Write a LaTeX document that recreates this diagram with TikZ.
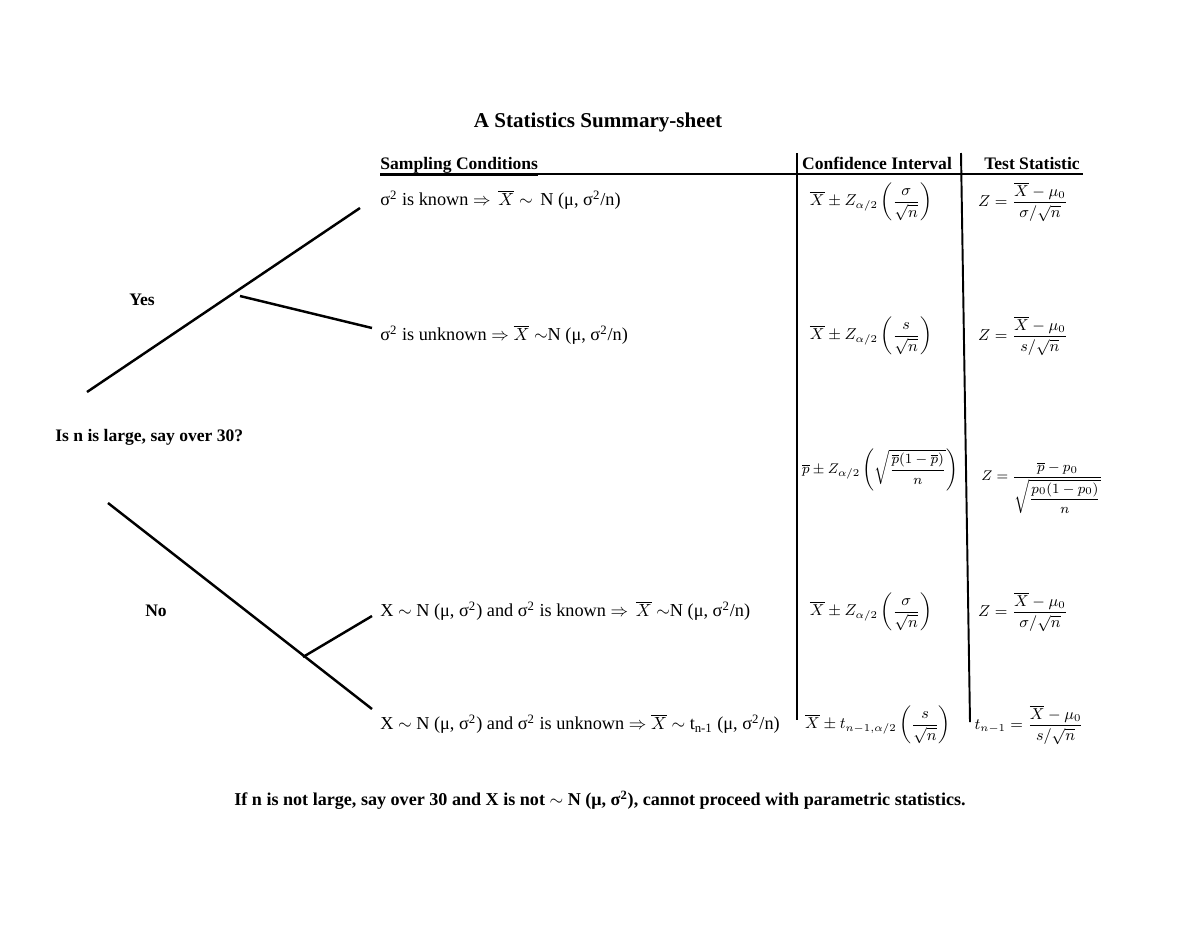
\documentclass[tikz,border=0pt]{standalone}
\usepackage{fontspec}
\setmainfont{Liberation Serif}
\usepackage{amsmath}
\begin{document}
\begin{tikzpicture}[x=0.02cm,y=-0.02cm,
    riga/.style={anchor=west,inner sep=0pt,font=\fontsize{10.4}{12}\selectfont},
    formula/.style={inner sep=0pt,font=\fontsize{9}{11}\selectfont},
    intest/.style={inner sep=0pt,font=\fontsize{10}{12}\selectfont\bfseries},
    ramo/.style={line width=1.4pt},
    colonna/.style={line width=1.1pt}]
    \useasboundingbox (0,0) rectangle (1200,927);
    % Titolo e intestazioni
    \node[intest,font=\fontsize{12}{14}\selectfont\bfseries] (titolo) at (598,122) {A Statistics Summary-sheet};
    \node[intest,anchor=base west] (hcond) at (380,169) {\underline{Sampling Conditions}};
    \node[intest,anchor=base] (hci) at (877,169) {Confidence Interval};
    \node[intest,anchor=base] (hts) at (1032,169) {Test Statistic};
    % Righe
    \coordinate (lsx) at (380,174);
    \coordinate (ldx) at (1083,174);
    \coordinate (c1a) at (797,153);
    \coordinate (c1b) at (797,720);
    \coordinate (c2a) at (961,153);
    \coordinate (c2b) at (970,722);
    \draw [line width=1.6pt] (lsx) -- (ldx);
    \draw [colonna] (c1a) -- (c1b);
    \draw [colonna] (c2a) -- (c2b);
    % Albero
    \coordinate (ys) at (87,392);
    \coordinate (ye) at (360,208);
    \coordinate (yb) at (240,296);
    \coordinate (yf) at (372,328);
    \coordinate (ns) at (108,503);
    \coordinate (ne) at (372,709);
    \coordinate (nb) at (303,657);
    \coordinate (nf) at (372,616);
    \draw [ramo] (ys) -- (ye);
    \draw [ramo] (yb) -- (yf);
    \draw [ramo] (ns) -- (ne);
    \draw [ramo] (nb) -- (nf);
    \node[intest] (yes) at (142,300) {Yes};
    \node[intest] (no) at (156,611) {No};
    \node[intest,anchor=west] (domanda) at (55,437) {Is n is large, say over 30?};
    % Condizioni
    \node[riga] (r1) at (380,200) {σ\textsuperscript{2} is known $\Rightarrow$\, $\overline{X}\sim$\, N (μ, σ\textsuperscript{2}/n)};
    \node[riga] (r2) at (380,335) {σ\textsuperscript{2} is unknown $\Rightarrow$ $\overline{X}$ $\sim$N (μ, σ\textsuperscript{2}/n)};
    \node[riga] (r4) at (380,611) {X $\sim$ N (μ, σ\textsuperscript{2}) and σ\textsuperscript{2} is known $\Rightarrow$\, $\overline{X}$ $\sim$N (μ, σ\textsuperscript{2}/n)};
    \node[riga] (r5) at (380,724) {X $\sim$ N (μ, σ\textsuperscript{2}) and σ\textsuperscript{2} is unknown $\Rightarrow$ $\overline{X}$ $\sim$ t\textsubscript{n-1} (μ, σ\textsuperscript{2}/n)};
    % Intervalli
    \node[formula] (ci1) at (871,202) {$\displaystyle \overline{X} \pm Z_{\alpha/2}\left(\frac{\sigma}{\sqrt{n}}\right)$};
    \node[formula] (ci2) at (871,336) {$\displaystyle \overline{X} \pm Z_{\alpha/2}\left(\frac{s}{\sqrt{n}}\right)$};
    \node[formula,font=\fontsize{8}{10}\selectfont] (ci3) at (880,470) {$\displaystyle \overline{p} \pm Z_{\alpha/2}\left(\sqrt{\frac{\overline{p}(1-\overline{p})}{n}}\right)$};
    \node[formula] (ci4) at (871,612) {$\displaystyle \overline{X} \pm Z_{\alpha/2}\left(\frac{\sigma}{\sqrt{n}}\right)$};
    \node[formula] (ci5) at (878,725) {$\displaystyle \overline{X} \pm t_{n-1,\alpha/2}\left(\frac{s}{\sqrt{n}}\right)$};
    % Statistiche
    \node[formula] (ts1) at (1023,202) {$\displaystyle Z=\frac{\overline{X}-\mu_0}{\sigma/\sqrt{n}}$};
    \node[formula] (ts2) at (1023,336) {$\displaystyle Z=\frac{\overline{X}-\mu_0}{s/\sqrt{n}}$};
    \node[formula,font=\fontsize{8}{10}\selectfont] (ts3) at (1042,488) {$\displaystyle Z=\frac{\overline{p}-p_0}{\sqrt{\dfrac{p_0(1-p_0)}{n}}}$};
    \node[formula] (ts4) at (1023,612) {$\displaystyle Z=\frac{\overline{X}-\mu_0}{\sigma/\sqrt{n}}$};
    \node[formula] (ts5) at (1029,725) {$\displaystyle t_{n-1}=\frac{\overline{X}-\mu_0}{s/\sqrt{n}}$};
    % Nota
    \node[intest,font=\fontsize{10.3}{12}\selectfont\bfseries] (nota) at (600,800) {If n is not large, say over 30 and X is not $\sim$ N (μ, σ\textsuperscript{2}), cannot proceed with parametric statistics.};
\end{tikzpicture}
\end{document}
